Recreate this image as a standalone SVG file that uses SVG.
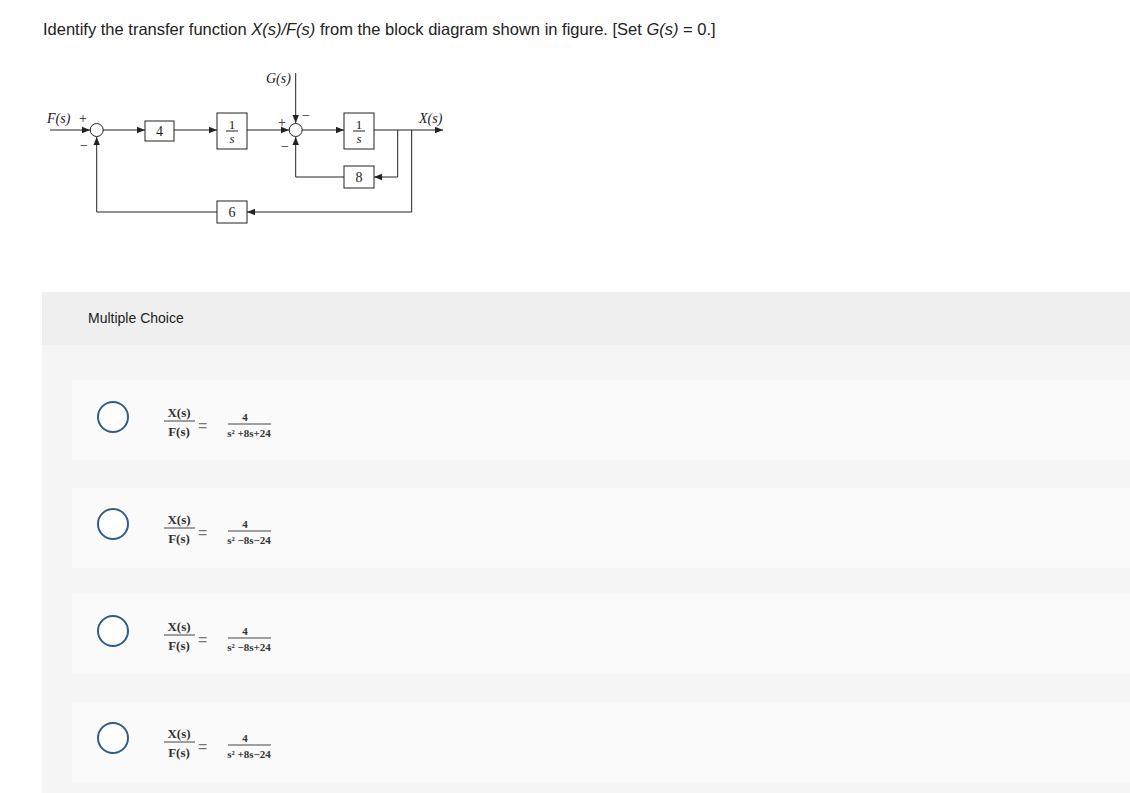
<svg xmlns="http://www.w3.org/2000/svg" width="1130" height="793" viewBox="0 0 1130 793">
<defs>
<marker id="ar" viewBox="0 0 10 10" refX="10" refY="5" markerWidth="8" markerHeight="8" orient="auto" markerUnits="userSpaceOnUse"><path d="M0,1 L10,5 L0,9 z" fill="#222"/></marker>
<style>
.w{stroke:#222;stroke-width:1;fill:none}
.b{stroke:#222;stroke-width:1;fill:#fff}
.t{font-family:"Liberation Serif",serif;fill:#222}
.s{font-family:"Liberation Sans",Arial,sans-serif;fill:#222}
.opt{fill:#fafafa}
.rad{fill:#fff;stroke:#2f5d8a;stroke-width:2}
.n{font-family:"Liberation Serif",serif;fill:#333;font-size:13px;font-weight:bold;text-anchor:middle}
.d{font-family:"Liberation Serif",serif;fill:#333;font-size:11px;font-weight:bold;text-anchor:middle}
.eq{font-family:"Liberation Sans",sans-serif;fill:#777;font-size:16px}
</style>
</defs>
<rect width="1130" height="793" fill="#fff"/>
<text x="43" y="35" class="s" font-size="16.5">Identify the transfer function <tspan font-style="italic">X(s)/F(s)</tspan> from the block diagram shown in figure. [Set <tspan font-style="italic">G(s)</tspan> = 0.]</text>
<g id="connectors">
<path class="w" d="M50,130 H90" marker-end="url(#ar)"/>
<path class="w" d="M103,130 H145" marker-end="url(#ar)"/>
<path class="w" d="M174,130 H217" marker-end="url(#ar)"/>
<path class="w" d="M247,130 H289" marker-end="url(#ar)"/>
<path class="w" d="M295.7,73 V123" marker-end="url(#ar)"/>
<path class="w" d="M302,130 H344" marker-end="url(#ar)"/>
<path class="w" d="M374,130 H443" marker-end="url(#ar)"/>
<path class="w" d="M397.7,130 V177 H374" marker-end="url(#ar)"/>
<path class="w" d="M344,177 H295.7 V137" marker-end="url(#ar)"/>
<path class="w" d="M411.7,130 V212 H247" marker-end="url(#ar)"/>
<path class="w" d="M217,212 H96.7 V137" marker-end="url(#ar)"/>
</g>
<g id="sum1"><circle cx="96.7" cy="130" r="6.5" class="b"/></g>
<g id="sum2"><circle cx="295.7" cy="130" r="6.5" class="b"/></g>
<g id="box4"><rect x="145" y="121" width="29" height="20" class="b"/><text x="159.5" y="136" class="t" font-size="14" text-anchor="middle">4</text></g>
<g id="int1"><rect x="217" y="113" width="30" height="36" class="b"/><text x="232" y="129" class="t" font-size="13" text-anchor="middle">1</text><line x1="226" y1="131" x2="238" y2="131" stroke="#222"/><text x="232" y="143" class="t" font-size="13" font-style="italic" text-anchor="middle">s</text></g>
<g id="int2"><rect x="344" y="113" width="30" height="36" class="b"/><text x="359" y="129" class="t" font-size="13" text-anchor="middle">1</text><line x1="353" y1="131" x2="365" y2="131" stroke="#222"/><text x="359" y="143" class="t" font-size="13" font-style="italic" text-anchor="middle">s</text></g>
<g id="box8"><rect x="344" y="166" width="30" height="22" class="b"/><text x="359" y="182" class="t" font-size="14" text-anchor="middle">8</text></g>
<g id="box6"><rect x="217" y="201" width="30" height="22" class="b"/><text x="232" y="217" class="t" font-size="14" text-anchor="middle">6</text></g>
<g id="labels" class="t" font-size="14">
<text x="47" y="123" font-style="italic">F(s)</text><text x="79" y="123">+</text>
<text x="80" y="150">−</text>
<text x="266" y="83" font-style="italic">G(s)</text>
<text x="278" y="127">+</text><text x="302" y="120">−</text><text x="281" y="151">−</text>
<text x="419" y="123" font-style="italic">X(s)</text>
</g>
<rect x="42" y="292" width="1088" height="501" fill="#f5f5f5"/>
<rect x="42" y="292" width="1088" height="53" fill="#efefef"/>
<text x="88" y="323" class="s" font-size="14">Multiple Choice</text>
<g id="options">
<g><rect x="72" y="380" width="1058" height="80" class="opt"/><circle cx="113" cy="417" r="15" class="rad"/>
<text x="179" y="417" class="n">X(s)</text><line x1="164" y1="421" x2="195" y2="421" stroke="#444"/><text x="179" y="436" class="n">F(s)</text>
<text x="198" y="431" class="eq">=</text>
<text x="245" y="421" class="d">4</text><line x1="228" y1="424" x2="271" y2="424" stroke="#444"/><text x="249" y="437" class="d">s² +8s+24</text></g>
<g><rect x="72" y="488" width="1058" height="80" class="opt"/><circle cx="113" cy="524" r="15" class="rad"/>
<text x="179" y="524" class="n">X(s)</text><line x1="164" y1="528" x2="195" y2="528" stroke="#444"/><text x="179" y="543" class="n">F(s)</text>
<text x="198" y="538" class="eq">=</text>
<text x="245" y="528" class="d">4</text><line x1="228" y1="531" x2="271" y2="531" stroke="#444"/><text x="249" y="544" class="d">s² −8s−24</text></g>
<g><rect x="72" y="594" width="1058" height="80" class="opt"/><circle cx="113" cy="631" r="15" class="rad"/>
<text x="179" y="631" class="n">X(s)</text><line x1="164" y1="635" x2="195" y2="635" stroke="#444"/><text x="179" y="650" class="n">F(s)</text>
<text x="198" y="645" class="eq">=</text>
<text x="245" y="635" class="d">4</text><line x1="228" y1="638" x2="271" y2="638" stroke="#444"/><text x="249" y="651" class="d">s² −8s+24</text></g>
<g><rect x="72" y="702" width="1058" height="80" class="opt"/><circle cx="113" cy="738" r="15" class="rad"/>
<text x="179" y="738" class="n">X(s)</text><line x1="164" y1="742" x2="195" y2="742" stroke="#444"/><text x="179" y="757" class="n">F(s)</text>
<text x="198" y="752" class="eq">=</text>
<text x="245" y="742" class="d">4</text><line x1="228" y1="745" x2="271" y2="745" stroke="#444"/><text x="249" y="758" class="d">s² +8s−24</text></g>
</g>
</svg>
